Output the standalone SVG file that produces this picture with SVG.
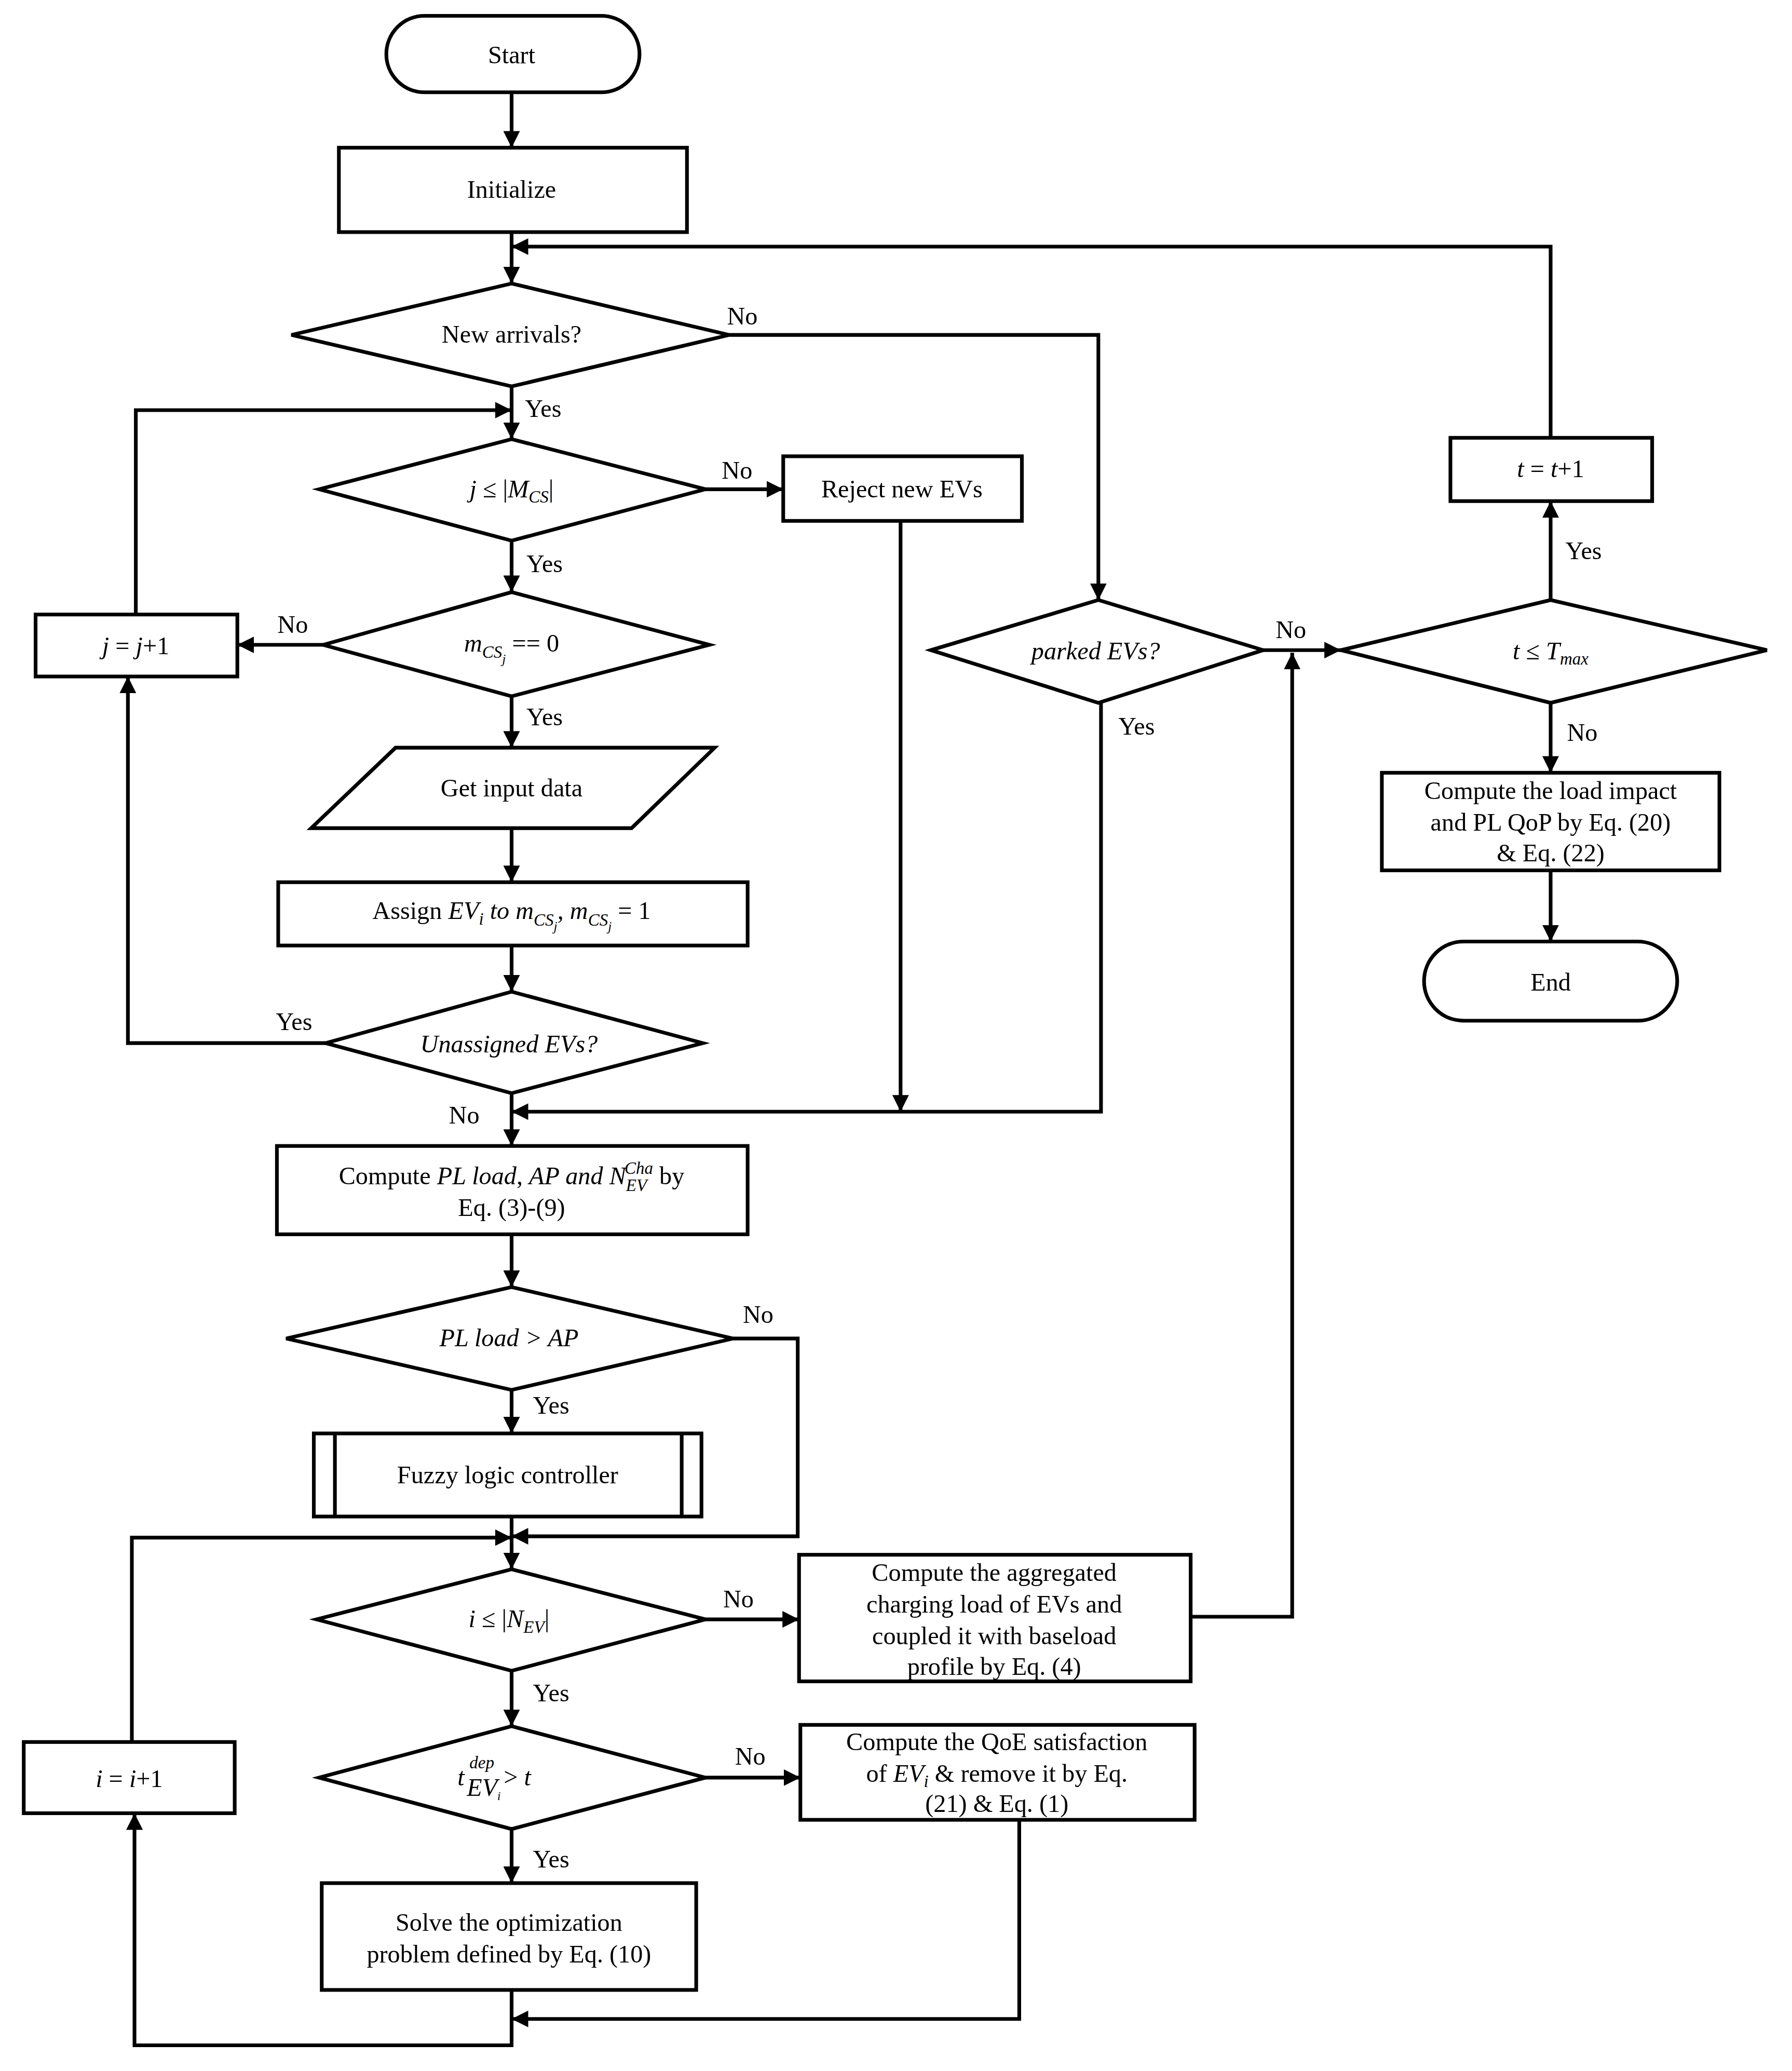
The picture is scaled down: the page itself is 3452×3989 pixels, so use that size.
<svg xmlns="http://www.w3.org/2000/svg" width="3452" height="3989" viewBox="0 0 3452 3989">
<style>
.s{fill:#fff;stroke:#000;stroke-width:2.8}
.c{fill:none;stroke:#000;stroke-width:2.8}
.a{marker-end:url(#ah)}
text{font-family:"Liberation Serif","Times New Roman",serif;font-size:19px;fill:#000}
.m{text-anchor:middle}
.i{font-style:italic}
.sb{font-size:13px}
</style>
<defs>
<marker id="ah" viewBox="0 0 10 10" refX="10" refY="5" markerWidth="4.5" markerHeight="4.5" markerUnits="strokeWidth" orient="auto"><path d="M0,0L10,5L0,10z" fill="#000"/></marker>
</defs>
<rect width="3452" height="3989" fill="#fff"/>
<g transform="scale(2.54)">
<g id="connectors">
<path class="c a" d="M388,70V112"/>
<path class="c a" d="M388,176V215"/>
<path class="c a" d="M1176,332V187H388"/>
<path class="c a" d="M553,254H833V455"/>
<path class="c a" d="M388,293V333"/>
<path class="c a" d="M103,466V311H388"/>
<path class="c a" d="M535,371H594"/>
<path class="c a" d="M683,395V843"/>
<path class="c a" d="M388,410V449"/>
<path class="c a" d="M245,489H180"/>
<path class="c a" d="M388,528V567"/>
<path class="c a" d="M388,628V669"/>
<path class="c a" d="M388,717V752"/>
<path class="c a" d="M247,791H97V513"/>
<path class="c a" d="M835,533V843H388"/>
<path class="c a" d="M388,829V869"/>
<path class="c a" d="M388,936V976"/>
<path class="c a" d="M556,1015H605V1165H388"/>
<path class="c a" d="M388,1054V1087"/>
<path class="c a" d="M388,1150V1190"/>
<path class="c a" d="M100,1321V1166H388"/>
<path class="c a" d="M535,1228H606"/>
<path class="c a" d="M903,1226H980V495"/>
<path class="c a" d="M958,493H1017"/>
<path class="c a" d="M388,1267V1309"/>
<path class="c a" d="M535,1348H607"/>
<path class="c a" d="M773,1380V1531H388"/>
<path class="c a" d="M388,1387V1428"/>
<path class="c a" d="M388,1509V1551H102V1375"/>
<path class="c a" d="M1176,455V380"/>
<path class="c a" d="M1176,533V586"/>
<path class="c a" d="M1176,660V714"/>
</g>
<g id="labels">
<text x="563" y="246" class="m">No</text>
<text x="412" y="316" class="m">Yes</text>
<text x="559" y="363" class="m">No</text>
<text x="413" y="434" class="m">Yes</text>
<text x="222" y="480" class="m">No</text>
<text x="413" y="550" class="m">Yes</text>
<text x="223" y="781" class="m">Yes</text>
<text x="352" y="852" class="m">No</text>
<text x="575" y="1003" class="m">No</text>
<text x="418" y="1072" class="m">Yes</text>
<text x="560" y="1219" class="m">No</text>
<text x="418" y="1290" class="m">Yes</text>
<text x="569" y="1338" class="m">No</text>
<text x="418" y="1416" class="m">Yes</text>
<text x="862" y="557" class="m">Yes</text>
<text x="979" y="484" class="m">No</text>
<text x="1201" y="424" class="m">Yes</text>
<text x="1200" y="562" class="m">No</text>
</g>
<g id="start"><rect class="s" x="293" y="12" width="192" height="58" rx="29"/><text x="388" y="48" class="m">Start</text></g>
<g id="init"><rect class="s" x="257" y="112" width="264" height="64"/><text x="388" y="150" class="m">Initialize</text></g>
<g id="arrivals"><polygon class="s" points="221,254 388,215 553,254 388,293"/><text x="388" y="260" class="m">New arrivals?</text></g>
<g id="jcheck"><polygon class="s" points="242,371 388,333 535,371 388,410"/><text x="388" y="377" class="m"><tspan class="i">j</tspan> ≤ |<tspan class="i">M</tspan><tspan class="i sb" dy="4">CS</tspan><tspan dy="-4">|</tspan></text></g>
<g id="reject"><rect class="s" x="594" y="346" width="181" height="49"/><text x="684" y="377" class="m">Reject new EVs</text></g>
<g id="mcheck"><polygon class="s" points="245,489 388,449 538,489 388,528"/><text x="388" y="494" class="m"><tspan class="i">m</tspan><tspan class="i sb" dy="5">CS</tspan><tspan class="i" font-size="10" dy="4">j</tspan><tspan dy="-9"> == 0</tspan></text></g>
<g id="jinc"><rect class="s" x="27" y="466" width="153" height="47"/><text x="103" y="496" class="m"><tspan class="i">j</tspan> = <tspan class="i">j</tspan>+1</text></g>
<g id="input"><polygon class="s" points="300,567 542,567 479,628 236,628"/><text x="388" y="604" class="m">Get input data</text></g>
<g id="assign"><rect class="s" x="211" y="669" width="356" height="48"/><text x="388" y="697" class="m">Assign <tspan class="i">EV</tspan><tspan class="i sb" dy="4">i</tspan><tspan class="i" dy="-4"> to m</tspan><tspan class="i sb" dy="5">CS</tspan><tspan class="i" font-size="10" dy="4">j</tspan><tspan dy="-9">, </tspan><tspan class="i">m</tspan><tspan class="i sb" dy="5">CS</tspan><tspan class="i" font-size="10" dy="4">j</tspan><tspan dy="-9"> = 1</tspan></text></g>
<g id="unassigned"><polygon class="s" points="247,791 388,752 533,791 388,829"/><text x="386" y="798" class="m i">Unassigned EVs?</text></g>
<g id="parked"><polygon class="s" points="706,493 833,455 958,493 833,533"/><text x="831" y="500" class="m i">parked EVs?</text></g>
<g id="compute_pl"><rect class="s" x="210" y="869" width="357" height="67"/><text x="388" y="898" class="m">Compute <tspan class="i">PL load</tspan>, <tspan class="i">AP and N</tspan><tspan class="i sb" dy="5">EV</tspan><tspan class="i sb" dx="-17" dy="-13">Cha</tspan><tspan dy="8"> by</tspan></text><text x="388" y="922" class="m">Eq. (3)-(9)</text></g>
<g id="plcheck"><polygon class="s" points="217,1015 388,976 556,1015 388,1054"/><text x="386" y="1021" class="m i">PL load &gt; AP</text></g>
<g id="flc"><rect class="s" x="238" y="1087" width="294" height="63"/><path class="c" d="M254,1087V1150M517,1087V1150"/><text x="385" y="1125" class="m">Fuzzy logic controller</text></g>
<g id="icheck"><polygon class="s" points="240,1228 388,1190 535,1228 388,1267"/><text x="386" y="1234" class="m"><tspan class="i">i</tspan> ≤ |<tspan class="i">N</tspan><tspan class="i sb" dy="4">EV</tspan><tspan dy="-4">|</tspan></text></g>
<g id="aggregate"><rect class="s" x="606" y="1179" width="297" height="96"/><text x="754" y="1199" class="m">Compute the aggregated</text><text x="754" y="1223" class="m">charging load of EVs and</text><text x="754" y="1247" class="m">coupled it with  baseload</text><text x="754" y="1270" class="m">profile by Eq. (4)</text></g>
<g id="tdep"><polygon class="s" points="242,1348 388,1309 535,1348 388,1387"/><text x="347" y="1354" class="i">t</text><text x="356" y="1341" class="i sb">dep</text><text x="354" y="1362" class="i" font-size="12">EV<tspan font-size="9" dy="3">i</tspan></text><text x="382" y="1354">&gt; <tspan class="i">t</tspan></text></g>
<g id="qoe"><rect class="s" x="607" y="1308" width="299" height="72"/><text x="756" y="1327" class="m">Compute the QoE satisfaction</text><text x="756" y="1351" class="m">of  <tspan class="i">EV</tspan><tspan class="i sb" dy="4">i</tspan><tspan dy="-4"> &amp; remove it by Eq.</tspan></text><text x="756" y="1374" class="m">(21) &amp; Eq. (1)</text></g>
<g id="solve"><rect class="s" x="244" y="1428" width="284" height="81"/><text x="386" y="1464" class="m">Solve the optimization</text><text x="386" y="1488" class="m">problem defined by Eq. (10)</text></g>
<g id="iinc"><rect class="s" x="18" y="1321" width="160" height="54"/><text x="98" y="1355" class="m"><tspan class="i">i</tspan> = <tspan class="i">i</tspan>+1</text></g>
<g id="tcheck"><polygon class="s" points="1017,493 1176,455 1340,493 1176,533"/><text x="1176" y="500" class="m"><tspan class="i">t</tspan> ≤ <tspan class="i">T</tspan><tspan class="i sb" dy="4">max</tspan></text></g>
<g id="tinc"><rect class="s" x="1100" y="332" width="153" height="48"/><text x="1176" y="362" class="m"><tspan class="i">t</tspan> = <tspan class="i">t</tspan>+1</text></g>
<g id="impact"><rect class="s" x="1048" y="586" width="256" height="74"/><text x="1176" y="606" class="m">Compute the load impact</text><text x="1176" y="630" class="m">and PL QoP by Eq. (20)</text><text x="1176" y="653" class="m">&amp; Eq. (22)</text></g>
<g id="end"><rect class="s" x="1080" y="714" width="192" height="60" rx="30"/><text x="1176" y="751" class="m">End</text></g>
</g>
</svg>
